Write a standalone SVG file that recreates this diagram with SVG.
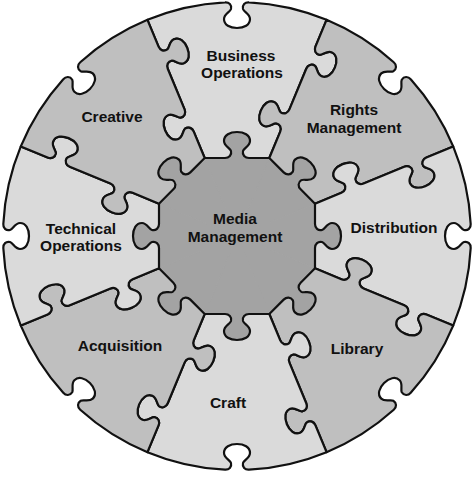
<svg xmlns="http://www.w3.org/2000/svg" width="474" height="479" viewBox="0 0 474 479">
<style>
.piece{stroke:#111;stroke-width:2.2;stroke-linejoin:round}
.light{fill:#dadada}
.mid{fill:#bfbfbf}
.core{fill:#a3a3a3;stroke:#a3a3a3;stroke-width:1}
.lbl{font-family:"Liberation Sans",Arial,sans-serif;font-weight:bold;font-size:15.5px;fill:#111;text-anchor:middle}
</style>
<defs>
<path id="piece" d="M -32.31,-78 L -12,-78 C -8,-78 -5,-81 -6,-85 C -7,-88 -13,-90 -13,-95 C -13,-101 -7,-104 0,-104 C 7,-104 13,-101 13,-95 C 13,-90 7,-88 6,-85 C 5,-81 8,-78 12,-78 L 32.31,-78 L 43.24,-104.40 C 44.77,-108.09 43.15,-112.01 39.07,-112.62 C 35.92,-112.85 31.77,-108.07 27.15,-109.98 C 21.61,-112.28 21.14,-118.97 23.81,-125.44 C 26.49,-131.90 31.56,-136.30 37.10,-134.00 C 41.72,-132.09 41.28,-125.78 43.66,-123.71 C 46.98,-121.25 50.90,-122.88 52.43,-126.57 L 69.27,-167.22 C 70.80,-170.92 74.72,-172.54 78.03,-170.09 C 80.42,-168.02 79.97,-161.71 84.59,-159.79 C 90.13,-157.50 95.20,-161.89 97.88,-168.36 C 100.56,-174.83 100.08,-181.52 94.54,-183.81 C 89.92,-185.73 85.78,-180.95 82.62,-181.17 C 78.54,-181.78 76.92,-185.70 78.45,-189.40 L 89.55,-216.19 A 234 234 0 0 0 12,-233.69 C 8,-234 5,-231 6,-227 C 7,-224 13,-222 13,-217 C 13,-211 7,-208 0,-208 C -7,-208 -13,-211 -13,-217 C -13,-222 -7,-224 -6,-227 C -5,-231 -8,-234 -12,-233.69 A 234 234 0 0 0 -89.55,-216.19 L -78.45,-189.40 C -76.92,-185.70 -73.00,-184.08 -69.69,-186.53 C -67.30,-188.60 -67.75,-194.91 -63.13,-196.83 C -57.58,-199.12 -52.52,-194.73 -49.84,-188.26 C -47.16,-181.79 -47.63,-175.10 -53.18,-172.81 C -57.80,-170.89 -61.94,-175.67 -65.09,-175.45 C -69.17,-174.84 -70.80,-170.92 -69.27,-167.22 L -52.43,-126.57 C -50.90,-122.88 -52.52,-118.96 -56.60,-118.35 C -59.75,-118.13 -63.90,-122.90 -68.52,-120.99 C -74.06,-118.69 -74.54,-112.00 -71.86,-105.54 C -69.18,-99.07 -64.11,-94.67 -58.57,-96.97 C -53.95,-98.88 -54.40,-105.19 -52.01,-107.26 C -48.69,-109.72 -44.77,-108.09 -43.24,-104.40 Z"/>
<path id="wedge" d="M 0,0 L -32.31,-78 L -12,-78 C -8,-78 -5,-81 -6,-85 C -7,-88 -13,-90 -13,-95 C -13,-101 -7,-104 0,-104 C 7,-104 13,-101 13,-95 C 13,-90 7,-88 6,-85 C 5,-81 8,-78 12,-78 L 32.31,-78 Z"/>
</defs>
<g id="media-management">
<g class="core" transform="translate(237 236)">
<use href="#wedge"/>
<use href="#wedge" transform="rotate(45)"/>
<use href="#wedge" transform="rotate(90)"/>
<use href="#wedge" transform="rotate(135)"/>
<use href="#wedge" transform="rotate(180)"/>
<use href="#wedge" transform="rotate(225)"/>
<use href="#wedge" transform="rotate(270)"/>
<use href="#wedge" transform="rotate(315)"/>
</g>
<text class="lbl" x="235" y="224">Media</text>
<text class="lbl" x="235" y="242">Management</text>
</g>
<g id="business-operations">
<use href="#piece" class="piece light" transform="translate(237 236)"/>
<text class="lbl" x="241" y="61">Business</text>
<text class="lbl" x="242" y="78">Operations</text>
</g>
<g id="rights-management">
<use href="#piece" class="piece mid" transform="translate(237 236) rotate(45)"/>
<text class="lbl" x="354" y="115">Rights</text>
<text class="lbl" x="354" y="133">Management</text>
</g>
<g id="distribution">
<use href="#piece" class="piece light" transform="translate(237 236) rotate(90)"/>
<text class="lbl" x="394" y="233">Distribution</text>
</g>
<g id="library">
<use href="#piece" class="piece mid" transform="translate(237 236) rotate(135)"/>
<text class="lbl" x="357" y="354">Library</text>
</g>
<g id="craft">
<use href="#piece" class="piece light" transform="translate(237 236) rotate(180)"/>
<text class="lbl" x="228" y="408">Craft</text>
</g>
<g id="acquisition">
<use href="#piece" class="piece mid" transform="translate(237 236) rotate(225)"/>
<text class="lbl" x="120" y="351">Acquisition</text>
</g>
<g id="technical-operations">
<use href="#piece" class="piece light" transform="translate(237 236) rotate(270)"/>
<text class="lbl" x="81" y="234">Technical</text>
<text class="lbl" x="81" y="251">Operations</text>
</g>
<g id="creative">
<use href="#piece" class="piece mid" transform="translate(237 236) rotate(315)"/>
<text class="lbl" x="112" y="122">Creative</text>
</g>
<g id="connectors"/>
</svg>
